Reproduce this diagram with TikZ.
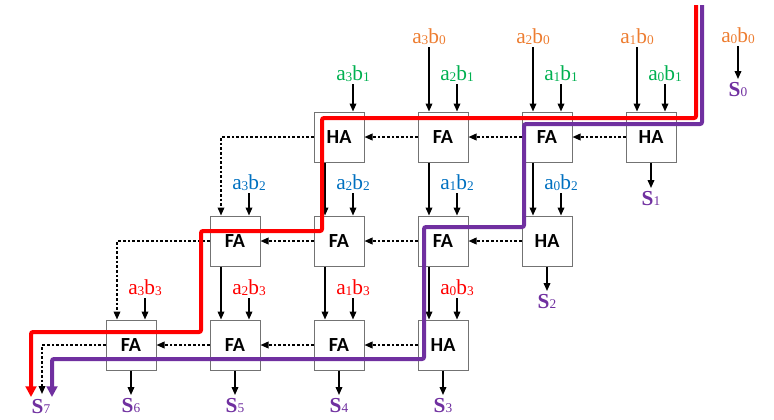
\documentclass[tikz,border=0pt]{standalone}
\usepackage{fontspec}
\setmainfont{Liberation Serif}
\newfontfamily\addfont{Carlito}
\usetikzlibrary{arrows.meta,calc}
\definecolor{pOrange}{HTML}{ED7D31}
\definecolor{pGreen}{HTML}{00B050}
\definecolor{pBlue}{HTML}{0070C0}
\definecolor{pRed}{HTML}{FF0000}
\definecolor{pPurple}{HTML}{7030A0}
\def\low#1{\raisebox{-0.6pt}{\fontsize{10}{10}\selectfont#1}}
\def\ab#1#2{a\low{#1}b\low{#2}}
\def\sn#1{\textbf{S}\low{#1}}
\tikzset{
  adder/.style={draw=black!55, line width=0.75pt, minimum size=37.5pt, inner sep=0pt,
    font=\addfont\bfseries\fontsize{15}{15}\selectfont},
  bit/.style={inner sep=1.5pt, anchor=south, font=\fontsize{16}{16}\selectfont},
  sum/.style={inner sep=2pt, anchor=north, text=pPurple, font=\fontsize{16}{16}\selectfont},
  arr/.style={-{Triangle[length=6pt,width=5pt]}, line width=1.1pt},
  carry/.style={arr, dash pattern=on 2pt off 1.5pt},
  crit/.style={line width=3pt, rounded corners=1.5pt, -{Triangle[length=8pt,width=8pt]}}
}

\begin{document}
\begin{tikzpicture}[x=0.75pt, y=-0.75pt]
    \useasboundingbox (0,0) rectangle (774,419);
    \foreach \r/\j/\t in {1/0/HA,1/1/FA,1/2/FA,1/3/HA,2/0/FA,2/1/FA,2/2/FA,2/3/HA,3/0/FA,3/1/FA,3/2/FA,3/3/HA}
        \node[adder] (b\r\j) at ({131+104*(\j+3-\r)}, {137+104*(\r-1)}) {\t};

    \foreach \r/\c/\y in {1/pGreen/84, 2/pBlue/193, 3/pRed/298} {
        \foreach \j [evaluate=\j as \i using int(3-\j)] in {0,...,3} {
            \node[bit,text=\c] (p\i\r) at ({131+104*(\j+3-\r)+14}, \y) {\ab{\i}{\r}};
            \draw[arr] (p\i\r) -- (p\i\r |- b\r\j.north);
        }
    }
    \foreach \j [evaluate=\j as \i using int(4-\j)] in {1,2,3} {
        \node[bit,text=pOrange] (p\i0) at ({131+104*(\j+2)-14}, 47) {\ab{\i}{0}};
        \draw[arr] (p\i0) -- (p\i0 |- b1\j.north);
    }

    \foreach \r/\s in {1/2,2/3}
        \foreach \j/\k in {0/1,1/2,2/3}
            \draw[arr] ($(b\r\j.south)+(-14,0)$) -- ($(b\s\k.north)+(-14,0)$);
    \foreach \r in {1,2,3}
        \foreach \j/\i in {1/0,2/1,3/2}
            \draw[carry] (b\r\j) -- (b\r\i);
    \draw[carry] (b10.west) -| ($(b20.north)+(-14,0)$);
    \draw[carry] (b20.west) -| ($(b30.north)+(-14,0)$);

    \node[bit,text=pOrange] (p00) at (738,46) {\ab00};
    \node[sum] (s0) at (738,79) {\sn0};
    \node[sum] (s1) at (651,188) {\sn1};
    \node[sum] (s2) at (547,291) {\sn2};
    \foreach \j/\n in {3/3,2/4,1/5,0/6}
        \node[sum] (s\n) at (b3\j |- 0,395) {\sn\n};
    \node[sum] (s7) at (41,396) {\sn7};
    \coordinate (c7) at (42,394);
    \draw[arr] (p00) -- (s0);
    \draw[arr] (b13) -- (s1);
    \draw[arr] (b23) -- (s2);
    \foreach \j/\n in {3/3,2/4,1/5,0/6}
        \draw[arr] (b3\j) -- (s\n);
    \draw[carry] (b30.west) -| (c7);

    \draw[crit,pRed] (696,5) |- (322,118) |- (201,231) |- (31,332) -- (31,397);
    \draw[crit,pPurple] (702,5) |- (524,124) |- (424,227) |- (52,359) -- (52,397);
\end{tikzpicture}
\end{document}
